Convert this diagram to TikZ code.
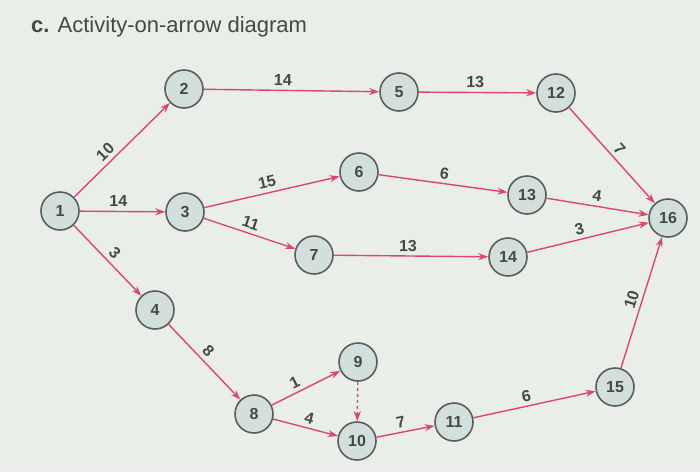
\documentclass[tikz,border=0pt]{standalone}
\usepackage{fontspec}
\setmainfont{Liberation Sans}
\usetikzlibrary{arrows.meta}
\definecolor{bg}{HTML}{E9EEE8}
\definecolor{nodefill}{HTML}{D2DFDC}
\definecolor{nodeline}{HTML}{595E5C}
\definecolor{edge}{HTML}{DC4670}
\definecolor{txt}{HTML}{474747}
\tikzset{
  ev/.style={circle, draw=nodeline, line width=1.6pt, fill=nodefill, minimum size=38pt, inner sep=0pt, text=txt, font=\fontsize{16}{16}\selectfont\bfseries},
  act/.style={draw=edge, line width=1.4pt, -{Stealth[length=10pt,width=7pt]}},
  lab/.style={text=txt, font=\fontsize{16}{16}\selectfont\bfseries, sloped, above, inner sep=4pt},
}
\begin{document}
\begin{tikzpicture}[x=1pt,y=-1pt]
\fill[bg] (0,0) rectangle (700,472);
\useasboundingbox (0,0) rectangle (700,472);
\node[anchor=base west, text=txt, font=\fontsize{22}{22}\selectfont, inner sep=0pt] (title) at (31,32) {\textbf{c.} Activity-on-arrow diagram};
\node[ev] (n1) at (60,211) {1};
\node[ev] (n2) at (184,89) {2};
\node[ev] (n3) at (185,212) {3};
\node[ev] (n4) at (155,310) {4};
\node[ev] (n5) at (399,92) {5};
\node[ev] (n6) at (359,172) {6};
\node[ev] (n7) at (314,255) {7};
\node[ev] (n8) at (254,414) {8};
\node[ev] (n9) at (358,362) {9};
\node[ev] (n10) at (357,441) {10};
\node[ev] (n11) at (454,422) {11};
\node[ev] (n12) at (556,93) {12};
\node[ev] (n13) at (527,195) {13};
\node[ev] (n14) at (508,257) {14};
\node[ev] (n15) at (615,387) {15};
\node[ev] (n16) at (668,218) {16};
\draw[act] (n1) -- node[lab, pos=0.4] {10} (n2);
\draw[act] (n1) -- node[lab, pos=0.45] {14} (n3);
\draw[act] (n1) -- node[lab, pos=0.5] {3} (n4);
\draw[act] (n2) -- node[lab, pos=0.45] {14} (n5);
\draw[act] (n3) -- node[lab, pos=0.48] {15} (n6);
\draw[act] (n3) -- node[lab, pos=0.48] {11} (n7);
\draw[act] (n5) -- node[lab, pos=0.48] {13} (n12);
\draw[act] (n6) -- node[lab, pos=0.5] {6} (n13);
\draw[act] (n12) -- node[lab, pos=0.5] {7} (n16);
\draw[act] (n13) -- node[lab, pos=0.48] {4} (n16);
\draw[act] (n14) -- node[lab, pos=0.45] {3} (n16);
\draw[act] (n7) -- node[lab, pos=0.48] {13} (n14);
\draw[act] (n4) -- node[lab, pos=0.45] {8} (n8);
\draw[act] (n8) -- node[lab, pos=0.4] {1} (n9);
\draw[act] (n8) -- node[lab, pos=0.52] {4} (n10);
\draw[act, dashed] (n9) -- (n10);
\draw[act] (n10) -- node[lab, pos=0.45] {7} (n11);
\draw[act] (n11) -- node[lab, pos=0.45] {6} (n15);
\draw[act] (n15) -- node[lab, pos=0.5] {10} (n16);
\end{tikzpicture}
\end{document}
